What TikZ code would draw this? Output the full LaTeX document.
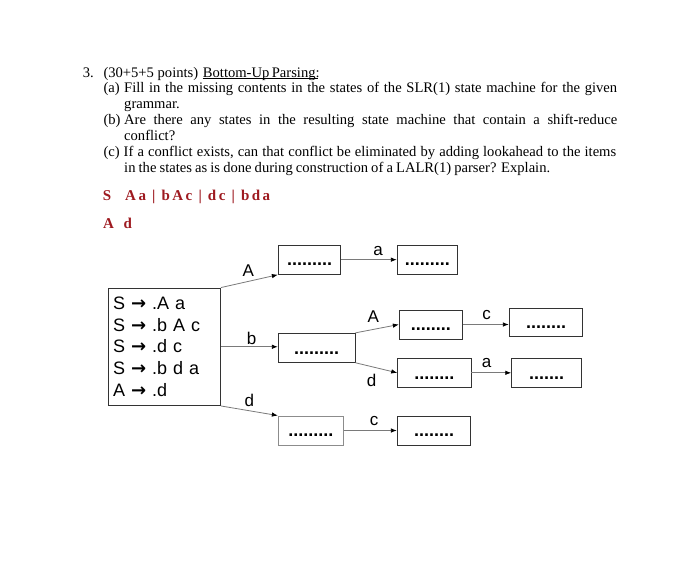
\documentclass[tikz,border=0pt]{standalone}
\usepackage{fontspec}
\setmainfont{Liberation Serif}
\newfontfamily\arialf{Liberation Sans}
\newfontfamily\djv{DejaVu Sans}
\usetikzlibrary{arrows.meta}
\definecolor{gram}{HTML}{9E1A20}
\definecolor{edgec}{HTML}{7A7A7A}
\newcommand{\myarr}{{\djv\bfseries →}}
\newcommand{\dts}[1]{\vphantom{A}#1}
\begin{document}
\begin{tikzpicture}[x=1pt,y=-1pt,
  statebox/.style={draw=black!80, line width=0.9pt, inner sep=0pt,
    font=\arialf\bfseries\fontsize{18}{18}\selectfont},
  trans/.style={draw=edgec, line width=0.8pt, -{Latex[length=6pt,width=4.5pt,color=black]}},
  lbl/.style={font=\arialf\fontsize{17}{17}\selectfont, inner sep=0pt},
  qtext/.style={anchor=base west, inner sep=0pt, font=\fontsize{14.6}{16}\selectfont},
  gtext/.style={anchor=base west, inner sep=0pt, text=gram, font=\bfseries\fontsize{15}{15}\selectfont},
]
\useasboundingbox[fill=white] (0,0) rectangle (700,587);

% ---- question text ----
\node[qtext] (q0) at (82.7,77) {3.};
\node[qtext] (q1) at (103.3,77) {(30+5+5 points)};
\node[qtext] (q2) at (202.7,77) {\makebox[115pt][s]{Bottom-Up Parsing:}};
\draw[line width=0.6pt] ([yshift=-1.6pt]q2.base west) -- ([yshift=-1.6pt]q2.base east);
\node[qtext] (qa) at (103.3,92) {(a)};
\node[qtext] (qa1) at (124,92) {\makebox[493pt][s]{Fill in the missing contents in the states of the SLR(1) state machine for the given}};
\node[qtext] (qa2) at (124,108) {grammar.};
\node[qtext] (qb) at (103.3,124.5) {(b)};
\node[qtext] (qb1) at (124,124.5) {\makebox[493pt][s]{Are there any states in the resulting state machine that contain a shift-reduce}};
\node[qtext] (qb2) at (124,140.5) {conflict?};
\node[qtext] (qc) at (103.3,156) {(c)};
\node[qtext] (qc1) at (123.5,156) {\makebox[492.5pt][s]{If a conflict exists, can that conflict be eliminated by adding lookahead to the items}};
\node[qtext] (qc2) at (124,172) {\makebox[426pt][s]{in the states as is done during construction of a LALR(1) parser? Explain.}};

% ---- grammar ----
\node[gtext] (g1) at (102.7,200) {S};
\node[gtext] (g2) at (125,200) {\makebox[145pt][s]{A\,a | b\,A\,c | d\,c | b\,d\,a}};
\node[gtext] (g3) at (103,228.5) {\makebox[28.7pt][s]{A d}};

% ---- state machine ----
\node[draw=black!80, line width=0.9pt, inner xsep=4.7pt, inner ysep=0pt,
      text width=102.8pt, minimum height=117.5pt, align=left,
      font=\arialf\fontsize{18}{21.7}\selectfont] (s0) at (164.4,346.75)
  {S \myarr{} .A a\\ S \myarr{} .b A c\\ S \myarr{} .d c\\ S \myarr{} .b d a\\ A \myarr{} .d};

\node[statebox, minimum width=62.4pt, minimum height=29.3pt] (b1) at (309.5,259.65) {\dts{.........}};
\node[statebox, minimum width=60pt, minimum height=29.3pt] (b2) at (427.3,259.65) {\dts{.........}};
\node[statebox, minimum width=76.7pt, minimum height=29pt] (b3) at (316.65,347.8) {\dts{.........}};
\node[statebox, minimum width=63pt, minimum height=29pt] (b4) at (430.8,324.5) {\dts{........}};
\node[statebox, minimum width=73.4pt, minimum height=28.4pt] (b5) at (546,322.5) {\dts{........}};
\node[statebox, minimum width=73.3pt, minimum height=29pt] (b6) at (434.35,372.8) {\dts{........}};
\node[statebox, minimum width=70pt, minimum height=29pt] (b7) at (546.7,372.8) {\dts{.......}};
\node[statebox, draw=black!45, minimum width=65pt, minimum height=29pt] (b8) at (310.8,430.5) {\dts{.........}};
\node[statebox, minimum width=73.4pt, minimum height=29pt] (b9) at (434,430.5) {\dts{........}};

\draw[trans] (s0.north east) -- (b1.south west);
\draw[trans] (s0.east) -- (s0.east -| b3.west);
\draw[trans] (s0.south east) -- (b8.north west);
\draw[trans] (b1.east) -- (b2.west);
\draw[trans] (b3.north east) -- (b4.west);
\draw[trans] (b3.south east) -- (b6.west);
\draw[trans] (b4.east) -- (b4.east -| b5.west);
\draw[trans] (b6.east) -- (b6.east -| b7.west);
\draw[trans] (b8.east) -- (b9.west);

\node[lbl] (l1) at (248.3,270.5) {A};
\node[lbl] (l2) at (251.7,338.3) {b};
\node[lbl] (l3) at (249.3,400) {d};
\node[lbl] (l4) at (378,251) {a};
\node[lbl] (l5) at (373.3,316.7) {A};
\node[lbl] (l6) at (371.7,380) {d};
\node[lbl] (l7) at (486.7,315) {c};
\node[lbl] (l8) at (486.7,363.3) {a};
\node[lbl] (l9) at (374,421) {c};
\end{tikzpicture}
\end{document}
